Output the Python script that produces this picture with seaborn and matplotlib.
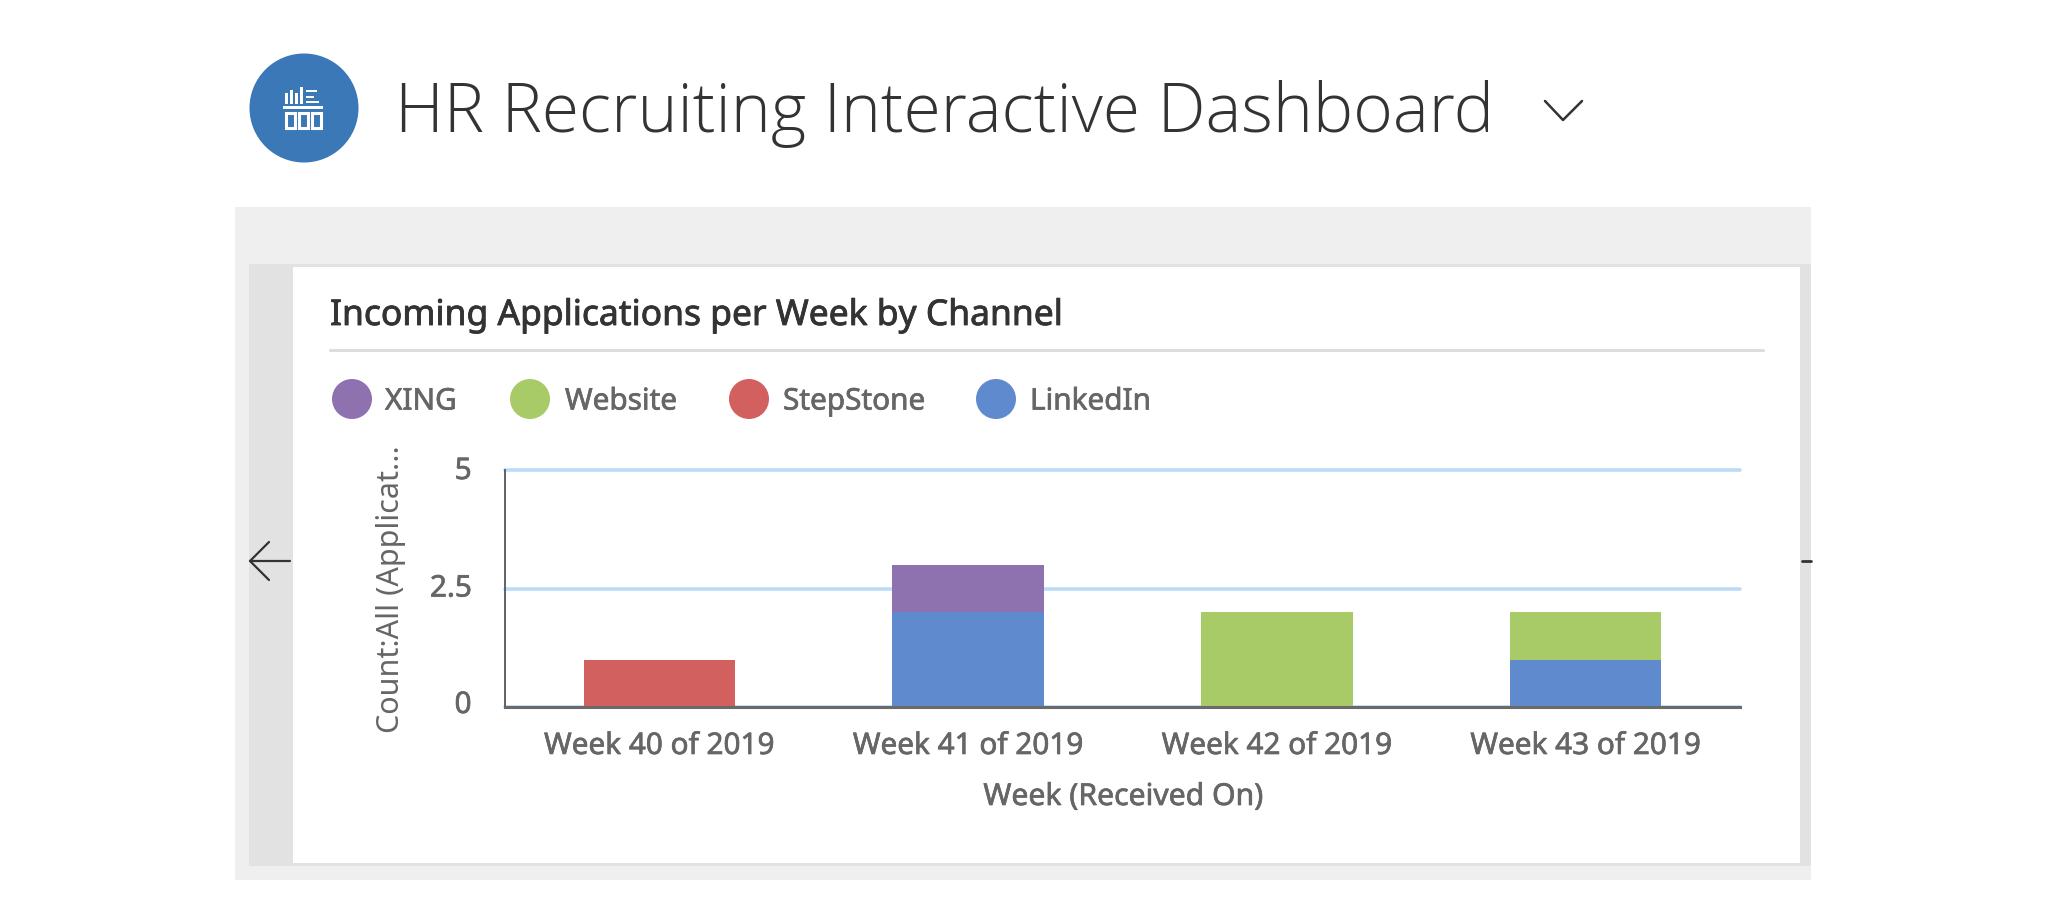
import matplotlib
matplotlib.use("Agg")
import matplotlib.pyplot as plt
from matplotlib.patches import Rectangle, Ellipse
from matplotlib.transforms import ScaledTranslation
import matplotlib.patheffects as pe
import numpy as np
import pandas as pd
import seaborn as sns

# Weekly application counts per channel
weeks = ["Week 40 of 2019", "Week 41 of 2019", "Week 42 of 2019", "Week 43 of 2019"]
linkedin = [0, 2, 0, 1]
stepstone = [1, 0, 0, 0]
website = [0, 0, 2, 1]
xing = [0, 1, 0, 0]
y_ticks = [0, 2.5, 5]
y_tick_labels = ["0", "2.5", "5"]

# Bottom-to-top stacking order
stack_names = ["LinkedIn", "StepStone", "Website", "XING"]
stack_values = [linkedin, stepstone, website, xing]
colors = {"XING": "#8E72B0", "Website": "#A8CB68", "StepStone": "#D2605F", "LinkedIn": "#5F8BCE"}
legend_order = ["XING", "Website", "StepStone", "LinkedIn"]
legend_dot_x = [352, 530, 749, 996]
legend_text_x = [385, 565, 783, 1030]

W, H = 2048, 907
FONT = "Noto Sans"
LABEL_SIZE = 21.4
sns.set_theme(style="white")
plt.rcParams["font.family"] = [FONT, "DejaVu Sans"]

fig = plt.figure(figsize=(W / 100, H / 100), dpi=100, facecolor="white")


def thicken(artist, width=0.5):
    # Slightly heavier strokes for the card's labels
    artist.set_path_effects([pe.withStroke(linewidth=width, foreground=artist.get_color())])


# Page furniture is laid out in pixel coordinates on a backdrop axes
bg = fig.add_axes([0, 0, 1, 1], zorder=0)
bg.set_xlim(0, W)
bg.set_ylim(H, 0)
bg.axis("off")


def box(x0, y0, x1, y1, color, **kw):
    bg.add_patch(Rectangle((x0, y0), x1 - x0, y1 - y0, facecolor=color, edgecolor="none", **kw))


box(235, 207, 1811, 880, "#EFEFEF")
box(249, 264, 1811, 866, "#E2E2E2")
box(293, 267, 1800, 863, "white")

# Header badge with its dashboard glyph
bg.add_patch(Ellipse((304, 108), 109, 109, facecolor="#3B78B7", edgecolor="none"))
for x0, top in [(285, 93), (290, 90), (295, 93), (300, 87)]:
    box(x0, top, x0 + 3, 104, "white")
for y0, x1 in [(90, 317), (96, 314), (101, 319)]:
    box(306, y0, x1, y0 + 2.2, "white")
box(283, 105.5, 323, 108.5, "white")
for x0 in (286, 299, 312):
    bg.add_patch(Rectangle((x0, 113), 8.5, 15, facecolor="none", edgecolor="white", linewidth=2.2))

bg.text(395, 114, "HR Recruiting Interactive Dashboard", fontsize=48.8, color="#333333",
        fontweight="light", family="Open Sans", va="center", ha="left")
bg.plot([1545, 1563, 1582], [101, 120, 101], color="#333333", lw=1.8)

# Card header and divider
thicken(bg.text(330, 316, "Incoming Applications per Week by Channel", fontsize=25.5, color="#333333",
                va="center", ha="left"), 0.6)
bg.plot([330, 1763], [349.5, 349.5], color="#DDDDDD", lw=2.2)

# Channel key
for name, dx, tx in zip(legend_order, legend_dot_x, legend_text_x):
    bg.add_patch(Ellipse((dx, 399), 40, 40, facecolor=colors[name], edgecolor="none"))
    thicken(bg.text(tx, 402, name, fontsize=LABEL_SIZE, color="#666666", va="center", ha="left"))

# Carousel arrows
bg.plot([290, 250, 269], [561, 561, 542], color="#333333", lw=1.6)
bg.plot([250, 269], [561, 580], color="#333333", lw=1.6)
bg.plot([1802, 1811], [561, 561], color="#333333", lw=2)

# Stacked bars
ax = fig.add_axes([505 / W, 1 - 707 / H, (1740 - 505) / W, (707 - 470) / H], zorder=1)
ax.patch.set_alpha(0)
ax.yaxis.grid(True, color="#BBDBF7", lw=2.6, zorder=0)
ax.set_axisbelow(True)

bottom = np.zeros(len(weeks))
for name, values in zip(stack_names, stack_values):
    frame = pd.DataFrame({"week": weeks, "count": values})
    sns.barplot(data=frame, x="week", y="count", order=weeks, color=colors[name], saturation=1,
                width=0.49, bottom=bottom, errorbar=None, ax=ax, zorder=2, linewidth=0)
    bottom = bottom + np.array(values)

ax.set_xlim(-0.5, 3.5)
ax.set_ylim(0, 5)
ax.set_yticks(y_ticks, y_tick_labels)
ax.tick_params(axis="both", length=0, labelsize=LABEL_SIZE, labelcolor="#666666")
ax.tick_params(axis="y", pad=24)
ax.tick_params(axis="x", pad=18)
for label in ax.get_xticklabels() + ax.get_yticklabels():
    thicken(label)
for gl in ax.get_ygridlines():
    gl.set_clip_on(False)
    gl.set_zorder(0.5)

# The y tick labels sit slightly above their gridlines, more so toward the baseline
for label, lift_px in zip(ax.get_yticklabels(), [5, 3, 2]):
    label.set_transform(label.get_transform() + ScaledTranslation(0, lift_px / 100, fig.dpi_scale_trans))

for side in ("top", "right"):
    ax.spines[side].set_visible(False)
ax.spines["left"].set_color("#555555")
ax.spines["left"].set_linewidth(1.3)
ax.spines["bottom"].set_color("#6A6A6A")
ax.spines["bottom"].set_linewidth(2.2)
ax.spines["bottom"].set_zorder(5)

ax.set_xlabel("")
ax.set_ylabel("")
thicken(bg.text(1123, 797, "Week (Received On)", fontsize=21.7, color="#666666", va="center", ha="center"))
bg.text(391, 589, "Count:All (Applicat...", fontsize=22, color="#666666", va="center", ha="center",
        rotation=90)

fig.savefig("out.png", dpi=100, facecolor="white")
